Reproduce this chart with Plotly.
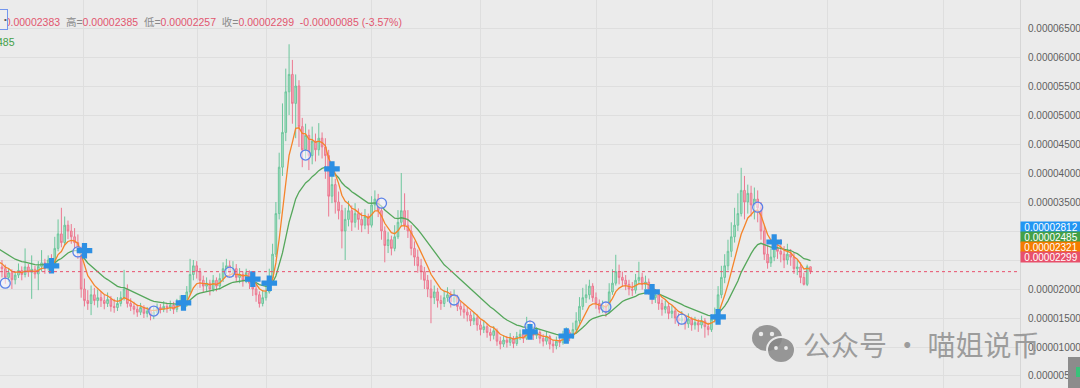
import plotly.graph_objects as go
import pandas as pd

SCALE = 1e-6  # values below are in units of 0.000001

# ---- candles before the visible window (off-screen, needed for the moving averages) ----
prior_open = [30.5, 31.0, 32.0, 30.5, 33.0, 32.0, 31.5, 33.5, 32.5, 31.0,
              30.5, 31.5, 30.0, 29.0, 29.5, 28.0, 27.0, 26.5, 26.0, 25.0,
              24.0, 25.0, 24.5, 23.5, 24.5]
prior_high = [31.8, 32.9, 32.6, 33.8, 33.6, 32.7, 34.2, 34.0, 33.1, 31.6,
              32.3, 31.9, 30.6, 30.2, 29.9, 28.6, 27.8, 27.3, 26.5, 25.6,
              25.8, 25.6, 24.9, 25.3, 25.0]
prior_low = [29.8, 30.4, 30.0, 30.1, 31.5, 31.0, 31.0, 32.0, 30.5, 29.8,
             30.1, 29.6, 28.5, 28.6, 27.4, 26.5, 26.0, 25.4, 24.6, 23.5,
             23.6, 24.0, 23.0, 23.1, 23.2]
prior_close = [31.0, 32.0, 30.5, 33.0, 32.0, 31.5, 33.5, 32.5, 31.0, 30.5,
               31.5, 30.0, 29.0, 29.5, 28.0, 27.0, 26.5, 26.0, 25.0, 24.0,
               25.0, 24.5, 23.5, 24.5, 23.8]

# ---- visible candles ----
open_v = [23.8, 23.5, 22.0, 22.8, 21.6, 22.4, 23.2, 22.5, 23.8, 22.9,
          23.4, 22.6, 23.9, 24.5, 23.7, 25.0, 24.2, 27.0, 29.5, 28.0,
          31.0, 30.0, 29.0, 28.0, 26.5, 20.0, 18.0, 17.5, 19.0, 18.0,
          18.5, 18.0, 17.5, 18.2, 17.0, 16.8, 17.5, 18.5, 20.0, 17.5,
          17.0, 16.5, 16.0, 16.8, 15.8, 16.2, 15.5, 16.0, 16.8, 16.5,
          17.0, 16.8, 17.2, 16.5, 17.5, 18.0, 17.2, 19.5, 22.5, 24.0,
          23.0, 21.5, 20.5, 21.0, 20.0, 21.5, 20.5, 21.8, 23.5, 24.0,
          22.8, 23.5, 22.0, 22.5, 21.5, 22.8, 21.0, 20.0, 19.0, 17.5,
          18.5, 19.5, 22.0, 26.0, 33.0, 41.0, 47.0, 54.0, 57.0, 52.0,
          55.0, 48.0, 44.0, 46.5, 43.0, 45.5, 44.0, 46.0, 44.5, 43.0,
          36.0, 38.0, 35.0, 33.5, 30.0, 32.0, 33.5, 31.5, 33.0, 32.0,
          31.0, 32.5, 31.0, 34.5, 35.5, 33.5, 30.0, 27.5, 28.5, 27.0,
          29.0, 31.5, 33.5, 31.0, 30.0, 27.0, 25.5, 24.0, 23.0, 21.5,
          20.0, 18.5, 19.5, 18.0, 17.5, 18.5, 19.0, 17.8, 18.5, 17.0,
          16.5, 16.0, 15.5, 14.5, 15.0, 13.8, 13.0, 13.5, 12.5, 12.0,
          12.8, 11.0, 10.5, 11.2, 10.8, 11.5, 10.6, 11.8, 12.2, 11.5,
          13.5, 13.0, 12.0, 12.5, 11.5, 11.0, 11.8, 10.5, 10.2, 11.0,
          10.8, 12.0, 12.5, 11.8, 13.0, 14.5, 17.0, 18.5, 19.0, 20.5,
          18.5, 17.5, 16.5, 17.0, 16.0, 19.5, 21.0, 23.0, 22.0, 21.5,
          20.8, 20.0, 19.8, 21.5, 22.0, 20.8, 21.2, 20.0, 18.5, 19.0,
          17.5, 16.5, 17.0, 15.8, 16.2, 15.0, 14.5, 15.0, 14.0, 14.8,
          13.8, 14.2, 13.8, 14.5, 13.5, 13.0, 14.8, 15.5, 19.0, 22.0,
          24.0, 26.5, 29.0, 31.0, 33.0, 37.0, 35.0, 36.5, 34.5, 35.5,
          34.0, 30.0, 26.0, 24.5, 25.5, 27.0, 26.5, 26.0, 25.0, 26.0,
          25.5, 23.5, 23.8, 22.0, 20.8, 23.83]
high_v = [25.0, 24.2, 23.6, 23.4, 23.0, 24.4, 23.9, 27.0, 24.3, 25.8,
          24.0, 24.8, 26.7, 25.2, 25.8, 26.0, 29.0, 32.0, 34.0, 32.5,
          31.8, 31.2, 30.5, 29.4, 27.3, 21.8, 19.8, 20.6, 20.2, 19.9,
          19.6, 19.0, 19.4, 18.8, 18.3, 18.6, 19.6, 23.3, 20.8, 18.4,
          17.8, 17.3, 17.6, 17.2, 16.9, 16.8, 16.9, 17.5, 17.4, 17.9,
          17.6, 18.0, 17.8, 18.3, 18.9, 18.6, 20.5, 25.2, 25.0, 24.8,
          23.6, 22.3, 22.0, 21.6, 22.4, 22.0, 22.7, 24.6, 25.2, 24.9,
          24.8, 24.3, 23.6, 23.0, 23.5, 23.2, 21.7, 20.8, 19.6, 19.8,
          21.0, 23.5, 27.8, 35.0, 43.5, 52.0, 58.0, 62.2, 59.5, 57.0,
          56.0, 49.5, 48.5, 47.5, 48.0, 46.8, 48.6, 47.0, 46.0, 44.0,
          40.5, 39.0, 36.8, 34.5, 34.0, 35.2, 34.4, 34.8, 33.9, 33.2,
          33.8, 33.0, 36.0, 37.0, 36.4, 34.2, 30.8, 29.8, 29.2, 31.0,
          33.6, 40.0, 36.5, 33.6, 31.0, 28.2, 26.8, 25.2, 23.8, 22.4,
          21.6, 20.6, 20.2, 18.9, 19.7, 20.3, 19.6, 19.9, 19.0, 17.8,
          17.4, 16.9, 16.2, 16.0, 15.6, 14.6, 14.6, 14.0, 13.2, 13.6,
          13.2, 11.8, 12.0, 11.9, 12.4, 11.9, 12.6, 13.0, 12.8, 15.2,
          14.6, 13.6, 13.4, 12.9, 12.2, 12.6, 12.1, 11.2, 11.8, 11.7,
          12.8, 13.4, 13.0, 14.2, 16.0, 18.6, 20.2, 20.8, 21.6, 21.0,
          19.4, 18.2, 18.0, 17.6, 21.0, 23.4, 25.9, 24.2, 23.0, 22.4,
          21.6, 21.2, 22.6, 24.7, 22.8, 22.3, 21.8, 20.6, 20.0, 19.6,
          18.2, 18.0, 17.6, 17.2, 16.8, 15.8, 16.2, 15.6, 15.8, 15.2,
          15.2, 14.8, 15.4, 15.0, 14.2, 15.6, 16.8, 20.5, 24.0, 26.0,
          28.5, 31.5, 34.0, 36.5, 40.9, 39.5, 38.0, 37.8, 37.5, 37.0,
          35.0, 31.0, 27.5, 27.0, 28.5, 28.0, 28.6, 27.4, 27.8, 26.9,
          26.4, 25.0, 24.6, 22.8, 24.2, 23.85]
low_v = [22.0, 20.9, 21.2, 20.0, 20.8, 21.9, 21.5, 22.0, 22.1, 18.3,
         21.8, 19.8, 23.0, 22.6, 23.2, 23.5, 23.9, 26.5, 27.2, 27.5,
         28.6, 27.8, 26.9, 25.2, 18.5, 17.0, 16.4, 15.5, 17.2, 16.8,
         16.9, 16.5, 16.9, 16.1, 15.9, 16.2, 17.0, 18.0, 16.8, 16.2,
         15.6, 15.2, 15.5, 15.0, 15.1, 14.6, 14.8, 15.6, 15.8, 16.0,
         15.9, 16.2, 15.7, 16.0, 17.0, 16.6, 16.9, 19.0, 21.5, 21.8,
         20.2, 19.4, 19.6, 18.9, 19.5, 19.6, 19.9, 21.2, 22.6, 21.9,
         22.1, 21.2, 21.0, 20.4, 21.0, 20.0, 18.8, 17.8, 16.8, 17.0,
         18.0, 19.2, 21.5, 25.5, 32.0, 39.5, 45.5, 50.0, 48.5, 46.0,
         44.5, 41.0, 42.5, 40.5, 41.5, 42.0, 43.0, 42.5, 39.0, 32.5,
         34.8, 33.0, 32.0, 27.0, 25.0, 30.8, 30.0, 30.6, 30.2, 29.8,
         30.3, 29.5, 30.6, 33.6, 32.4, 28.5, 24.6, 26.2, 25.8, 26.5,
         28.6, 30.8, 30.2, 28.8, 25.8, 24.0, 22.8, 21.6, 20.0, 18.6,
         14.1, 17.4, 16.8, 16.4, 16.9, 17.8, 16.8, 17.2, 16.2, 15.4,
         14.9, 14.4, 13.6, 13.8, 12.8, 12.0, 12.4, 11.6, 11.0, 11.3,
         10.2, 9.6, 10.0, 9.9, 10.2, 9.8, 10.2, 11.2, 10.7, 11.2,
         12.2, 11.2, 11.4, 10.6, 10.1, 10.4, 9.6, 9.0, 9.6, 10.0,
         10.4, 11.4, 11.0, 11.4, 12.6, 14.0, 16.4, 17.6, 18.2, 17.8,
         16.6, 15.8, 15.9, 15.2, 15.8, 19.0, 20.6, 20.8, 20.4, 19.8,
         18.9, 18.8, 19.2, 20.8, 19.9, 20.0, 19.0, 17.4, 17.6, 16.4,
         15.4, 15.8, 14.8, 15.0, 14.0, 13.6, 13.9, 13.0, 13.3, 12.8,
         13.0, 12.6, 13.2, 11.6, 12.0, 12.6, 14.2, 15.2, 18.4, 21.0,
         23.2, 25.5, 28.0, 30.0, 32.5, 32.0, 33.0, 32.5, 32.0, 31.5,
         28.5, 25.0, 23.5, 23.8, 24.8, 25.2, 24.6, 23.6, 24.2, 24.0,
         22.6, 22.4, 21.0, 20.6, 20.5, 22.57]
close_v = [23.5, 22.0, 22.8, 21.6, 22.4, 23.2, 22.5, 23.8, 22.9, 23.4,
           22.6, 23.9, 24.5, 23.7, 25.0, 24.2, 27.0, 29.5, 28.0, 31.0,
           30.0, 29.0, 28.0, 26.5, 20.0, 18.0, 17.5, 19.0, 18.0, 18.5,
           18.0, 17.5, 18.2, 17.0, 16.8, 17.5, 18.5, 20.0, 17.5, 17.0,
           16.5, 16.0, 16.8, 15.8, 16.2, 15.5, 16.0, 16.8, 16.5, 17.0,
           16.8, 17.2, 16.5, 17.5, 18.0, 17.2, 19.5, 22.5, 24.0, 23.0,
           21.5, 20.5, 21.0, 20.0, 21.5, 20.5, 21.8, 23.5, 24.0, 22.8,
           23.5, 22.0, 22.5, 21.5, 22.8, 21.0, 20.0, 19.0, 17.5, 18.5,
           19.5, 22.0, 26.0, 33.0, 41.0, 47.0, 54.0, 57.0, 52.0, 55.0,
           48.0, 44.0, 46.5, 43.0, 45.5, 44.0, 46.0, 44.5, 43.0, 36.0,
           38.0, 35.0, 33.5, 30.0, 32.0, 33.5, 31.5, 33.0, 32.0, 31.0,
           32.5, 31.0, 34.5, 35.5, 33.5, 30.0, 27.5, 28.5, 27.0, 29.0,
           31.5, 33.5, 31.0, 30.0, 27.0, 25.5, 24.0, 23.0, 21.5, 20.0,
           18.5, 19.5, 18.0, 17.5, 18.5, 19.0, 17.8, 18.5, 17.0, 16.5,
           16.0, 15.5, 14.5, 15.0, 13.8, 13.0, 13.5, 12.5, 12.0, 12.8,
           11.0, 10.5, 11.2, 10.8, 11.5, 10.6, 11.8, 12.2, 11.5, 13.5,
           13.0, 12.0, 12.5, 11.5, 11.0, 11.8, 10.5, 10.2, 11.0, 10.8,
           12.0, 12.5, 11.8, 13.0, 14.5, 17.0, 18.5, 19.0, 20.5, 18.5,
           17.5, 16.5, 17.0, 16.0, 19.5, 21.0, 23.0, 22.0, 21.5, 20.8,
           20.0, 19.8, 21.5, 22.0, 20.8, 21.2, 20.0, 18.5, 19.0, 17.5,
           16.5, 17.0, 15.8, 16.2, 15.0, 14.5, 15.0, 14.0, 14.8, 13.8,
           14.2, 13.8, 14.5, 13.5, 13.0, 14.8, 15.5, 19.0, 22.0, 24.0,
           26.5, 29.0, 31.0, 33.0, 37.0, 35.0, 36.5, 34.5, 35.5, 34.0,
           30.0, 26.0, 24.5, 25.5, 27.0, 26.5, 26.0, 25.0, 26.0, 25.5,
           23.5, 23.8, 22.0, 20.8, 23.84, 22.99]

# signal markers (candle index, price)
cross_idx = [15, 25, 55, 76, 81, 100, 160, 171, 197, 217, 234]
cross_val = [24.0, 26.6, 17.6, 21.7, 21.0, 40.7, 12.6, 11.9, 19.5, 15.2, 28.1]
circle_idx = [1, 23, 46, 69, 92, 115, 137, 160, 183, 206, 229]
circle_val = [21.0, 26.4, 16.2, 22.9, 43.1, 34.8, 18.1, 13.6, 16.9, 14.8, 34.1]

# right-hand price tags (as shown on the chart)
tag_values = [28.12, 24.85, 23.21, 22.99]
tag_colors = ["#2196f3", "#43a047", "#f57c00", "#e8506b"]

# header values
hdr_open, hdr_high, hdr_low, hdr_close = 23.83, 23.85, 22.57, 22.99
hdr_chg, hdr_pct = -0.85, -3.57
hdr_ma = 24.85

# y-axis ticks (0.000005 .. 0.000065); 25 and 30 are covered by the price tags
ytick_vals = [5, 10, 15, 20, 25, 30, 35, 40, 45, 50, 55, 60, 65]
ytick_hidden = [25, 30]

# ------------------------------------------------------------------
opens = prior_open + open_v
highs = prior_high + high_v
lows = prior_low + low_v
closes = prior_close + close_v
xs = list(range(-len(prior_close), len(close_v)))

cs = pd.Series(closes)
ma_fast = cs.ewm(span=7, adjust=False).mean()
ma_slow = cs.ewm(span=20, adjust=False).mean()

sc = lambda arr: [v * SCALE for v in arr]

W, H = 1080, 388
PLOT_W = 1020
def px(x):
    return x / PLOT_W
def py(y):
    return 1 - y / H

BG = "#ebebeb"
FONT = "Liberation Sans, Arial, Noto Sans CJK SC, sans-serif"

fig = go.Figure()
fig.add_trace(go.Candlestick(
    x=xs, open=sc(opens), high=sc(highs), low=sc(lows), close=sc(closes),
    increasing=dict(line=dict(color="#6cc69c", width=1), fillcolor="#b4e1c9"),
    decreasing=dict(line=dict(color="#ec7890", width=1), fillcolor="#f4b1bd"),
    whiskerwidth=0, hoverinfo="skip", showlegend=False,
))
fig.add_trace(go.Scatter(x=xs, y=sc(ma_slow), mode="lines",
                         line=dict(color="#55a75b", width=1.3), hoverinfo="skip"))
fig.add_trace(go.Scatter(x=xs, y=sc(ma_fast), mode="lines",
                         line=dict(color="#f5842a", width=1.3), hoverinfo="skip"))
fig.add_trace(go.Scatter(x=circle_idx, y=sc(circle_val), mode="markers",
                         marker=dict(symbol="circle", size=10, color="rgba(245,245,255,0.55)",
                                     line=dict(color="#5b82e8", width=1.3)),
                         hoverinfo="skip"))
fig.add_trace(go.Scatter(x=cross_idx, y=sc(cross_val), mode="markers",
                         marker=dict(symbol="cross", size=13, color="#2c8fe3",
                                     line=dict(width=0)),
                         hoverinfo="skip"))

x_grid = [24.6, 59.1, 80.3, 112.1, 144.9, 180.3, 215.2, 250.3, 285.2]

fig.update_layout(
    width=W, height=H,
    margin=dict(l=0, r=W - PLOT_W, t=0, b=0),
    paper_bgcolor=BG, plot_bgcolor=BG,
    showlegend=False,
    font=dict(family=FONT, size=10, color="#5f5f5f"),
    xaxis=dict(range=[-0.6, -0.6 + PLOT_W / 3.3], rangeslider=dict(visible=False),
               tickvals=x_grid, showticklabels=False, showgrid=True,
               gridcolor="#dedede", gridwidth=1, zeroline=False, ticks=""),
    yaxis=dict(range=[2.93 * SCALE, 69.83 * SCALE], side="right",
               tickvals=sc(ytick_vals),
               ticktext=["" if v in ytick_hidden else f"{v * SCALE:.8f}" for v in ytick_vals],
               showgrid=True, gridcolor="#dedede", gridwidth=1, zeroline=False,
               showline=True, linecolor="#d6d6d6", linewidth=1,
               ticks="", ticklabelstandoff=5,
               tickfont=dict(size=10, color="#5f5f5f", family=FONT)),
)

# dotted last-price line
fig.add_shape(type="line", xref="paper", yref="y", x0=0, x1=1,
              y0=close_v[-1] * SCALE, y1=close_v[-1] * SCALE,
              line=dict(color="#e8506b", width=1, dash="dot"), layer="above")

# price tags on the right
tag_centers = [226.5, 236.8, 247.0, 257.2]
for v, c, yc in zip(tag_values, tag_colors, tag_centers):
    fig.add_annotation(xref="paper", yref="paper", x=1, y=py(yc),
                       xanchor="left", yanchor="middle", showarrow=False,
                       text=f"{v * SCALE:.8f}", bgcolor=c, width=60, height=10,
                       borderpad=0, align="center",
                       font=dict(color="white", size=10, family=FONT))

# header line
red = "#e2566f"
gray = "#8a8a8a"
def lab(t):
    return f"<span style='color:{gray}'>{t}</span>"
sep = "\u00a0 "
hdr = (lab("开=") + f"{hdr_open * SCALE:.8f}" + sep +
       lab("高=") + f"{hdr_high * SCALE:.8f}" + sep +
       lab("低=") + f"{hdr_low * SCALE:.8f}" + sep +
       lab("收=") + f"{hdr_close * SCALE:.8f}" + sep +
       f"{hdr_chg * SCALE:.8f}" + f" ({hdr_pct:.2f}%)")
fig.add_annotation(xref="paper", yref="paper", x=px(-12.6), y=py(21.7),
                   xanchor="left", yanchor="middle", showarrow=False, text=hdr,
                   borderpad=0, font=dict(color=red, size=10.5, family=FONT))
fig.add_annotation(xref="paper", yref="paper", x=px(16), y=py(41.7),
                   xanchor="right", yanchor="middle", showarrow=False,
                   text=f"{hdr_ma * SCALE:.8f}", borderpad=0,
                   font=dict(color="#43a047", size=10.5, family=FONT))
# small icon box at top-left corner
fig.add_annotation(xref="paper", yref="paper", x=px(1), y=py(19),
                   xanchor="center", yanchor="middle", showarrow=False,
                   text="•", width=11, height=19, bgcolor="#eeeeee",
                   bordercolor="#7396ee", borderwidth=1, borderpad=0, align="right",
                   font=dict(color="#555555", size=8, family=FONT))

# watermark (WeChat-style bubbles + text)
wm = "rgba(135,135,135,0.85)"
fig.add_shape(type="circle", xref="paper", yref="paper",
              x0=px(752), x1=px(782), y0=py(351), y1=py(325),
              fillcolor=wm, line=dict(width=0), layer="above")
fig.add_shape(type="circle", xref="paper", yref="paper",
              x0=px(767), x1=px(795), y0=py(363), y1=py(337),
              fillcolor=wm, line=dict(color=BG, width=2), layer="above")
for ex, ey, r in [(761, 334, 2.2), (772, 334, 2.2), (776, 348, 1.9), (786, 348, 1.9)]:
    fig.add_shape(type="circle", xref="paper", yref="paper",
                  x0=px(ex - r), x1=px(ex + r), y0=py(ey + r), y1=py(ey - r),
                  fillcolor=BG, line=dict(width=0), layer="above")
fig.add_annotation(xref="paper", yref="paper", x=px(801), y=py(344),
                   xanchor="left", yanchor="middle", showarrow=False,
                   text="公众号 · 喵姐说币",
                   font=dict(color="rgba(130,130,130,0.75)", size=28,
                             family="Noto Sans CJK SC"))

# partial widget in the bottom-right corner
fig.add_shape(type="rect", xref="paper", yref="paper",
              x0=px(1068), x1=px(1084), y0=py(392), y1=py(357),
              fillcolor="#8c8c8c", line=dict(width=0), layer="above")
fig.add_shape(type="rect", xref="paper", yref="paper",
              x0=px(1076), x1=px(1081), y0=py(377), y1=py(367),
              fillcolor="#39c27a", line=dict(width=0), layer="above")

fig.write_html("out.html", config={"displayModeBar": False},
               post_script="document.body.style.margin='0px';"
                           "document.body.style.background='#ebebeb';")
